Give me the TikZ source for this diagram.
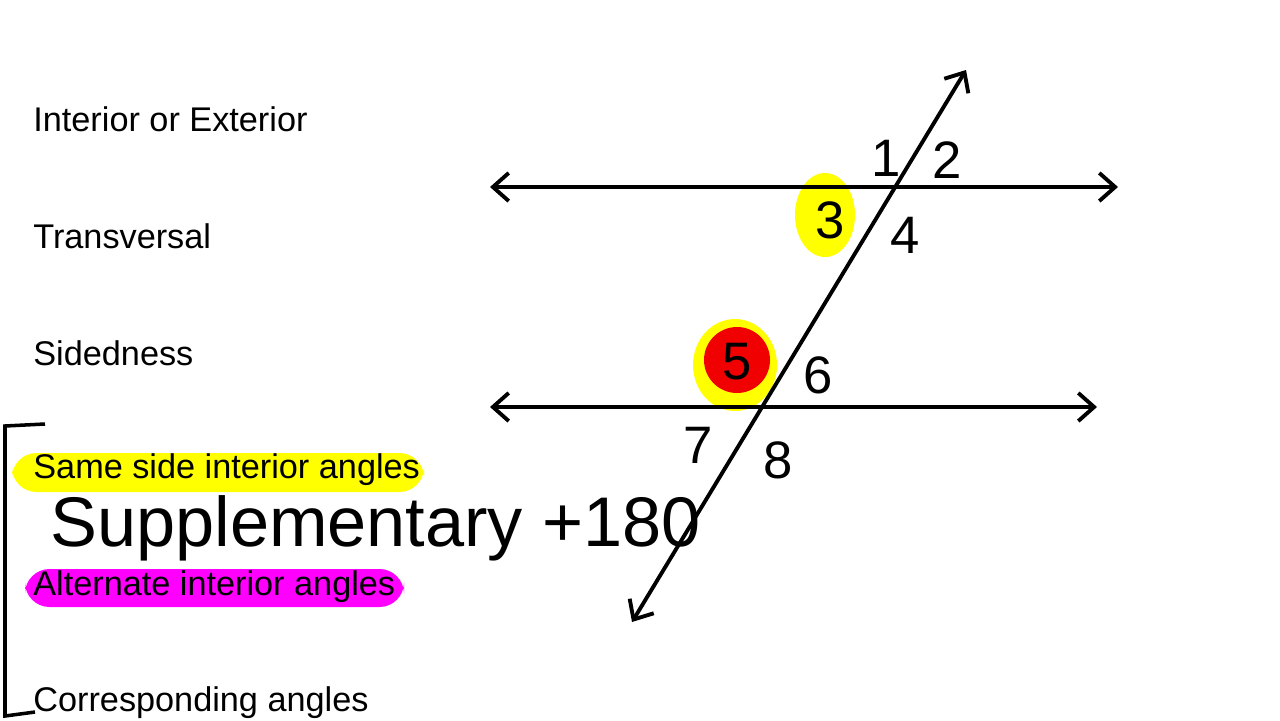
\documentclass[tikz,border=0pt]{standalone}
\usepackage{fontspec}
\setmainfont{Liberation Sans}
\usetikzlibrary{arrows.meta}
\definecolor{hmag}{RGB}{255,0,255}
\definecolor{hyel}{RGB}{255,255,0}
\definecolor{hred}{RGB}{240,0,0}
\begin{document}
\begin{tikzpicture}[x=0.02cm,y=-0.02cm,
  lab/.style={anchor=west,inner sep=0,font=\fontsize{19.5}{22}\selectfont},
  hand/.style={inner sep=0,font=\fontsize{30}{34}\selectfont},
  ln/.style={line width=2.2pt,{Straight Barb[length=9pt,width=16pt]}-{Straight Barb[length=9pt,width=16pt]}}]
\useasboundingbox (0,0) rectangle (1280,720);
\fill[white] (0,0) rectangle (1280,720);
% highlights
\fill[hyel, rounded corners=14pt] (12,453) rectangle (424,492);
\fill[hmag, rounded corners=14pt] (25,569) rectangle (404,607);
\fill[hyel] (825,215) ellipse [x radius=30, y radius=42];
\fill[hyel] (735,365) ellipse [x radius=42, y radius=46];
\fill[hred] (737,360) circle [radius=33];
% labels
\node[lab] (t1) at (33,119) {Interior or Exterior};
\node[lab] (t2) at (33,236) {Transversal};
\node[lab] (t3) at (33,353) {Sidedness};
\node[lab] (t4) at (33,470) {Same side interior angles};
\node[lab] (t5) at (33,587) {Alternate interior angles};
\node[lab] (t6) at (33,703) {Corresponding angles};
% bracket
\draw[line width=2pt] (45,424) -- (5,426) -- (5,716) -- (35,712);
% lines
\coordinate (a1) at (490,187); \coordinate (a2) at (1118,187);
\coordinate (b1) at (490,407); \coordinate (b2) at (1097,407);
\coordinate (c1) at (632,622); \coordinate (c2) at (966,70);
\draw[ln] (a1) -- (a2);
\draw[ln] (b1) -- (b2);
\draw[ln] (c1) -- (c2);
% numbers
\node[hand] (n1) at (886,158) {1};
\node[hand] (n2) at (947,160) {2};
\node[hand] (n3) at (830,220) {3};
\node[hand] (n4) at (905,235) {4};
\node[hand] (n5) at (737,362) {5};
\node[hand] (n6) at (818,375) {6};
\node[hand] (n7) at (698,445) {7};
\node[hand] (n8) at (778,460) {8};
\node[inner sep=0,anchor=west,font=\fontsize{40}{44}\selectfont] (sup) at (50,528) {Supplementary +180};
\end{tikzpicture}
\end{document}
